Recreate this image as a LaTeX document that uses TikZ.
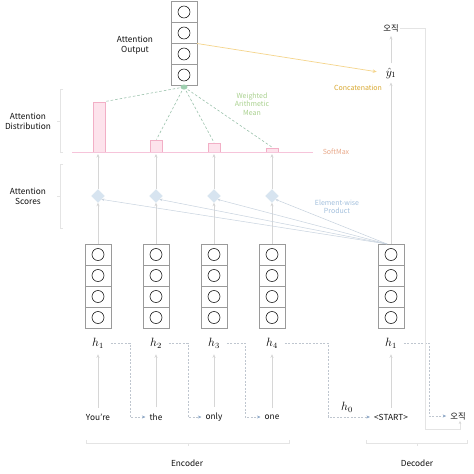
\documentclass[tikz,border=0pt]{standalone}
\usepackage{fontspec}
\setmainfont{Noto Sans CJK KR}
\usetikzlibrary{arrows.meta,shapes.geometric,calc}
\definecolor{boxgray}{HTML}{9A9A9A}
\definecolor{lgray}{HTML}{D6D6D6}
\definecolor{bgray}{HTML}{E4E4E4}
\definecolor{dgray}{HTML}{BFC6CF}
\definecolor{dtip}{HTML}{8FA9C8}
\definecolor{diafill}{HTML}{D7E4F0}
\definecolor{ewline}{HTML}{C8D3DF}
\definecolor{smline}{HTML}{F6C4DA}
\definecolor{smtext}{HTML}{E9A98A}
\definecolor{barfill}{HTML}{FDE3EC}
\definecolor{bardraw}{HTML}{F2AFC6}
\definecolor{gdash}{HTML}{9CC3AD}
\definecolor{gdot}{HTML}{9FCFB0}
\definecolor{gtext}{HTML}{A9D18E}
\definecolor{yline}{HTML}{F5D58C}
\definecolor{ytext}{HTML}{D9A932}
\definecolor{btext}{HTML}{A3C0DD}
\definecolor{txtc}{HTML}{111111}
\tikzset{
  vecbox/.pic={
    \node[draw=boxgray, line width=0.7pt, minimum width=26pt, minimum height=84pt, inner sep=0pt, outer sep=0pt] (-box) {};
    \foreach \k in {-21,0,21} \draw[boxgray, line width=0.7pt] (-13,\k) -- (13,\k);
    \foreach \k in {-31.5,-10.5,10.5,31.5} \draw[black, line width=0.55pt] (0,\k) circle[radius=6];
  },
  txt/.style={font=\fontsize{8.3}{9.8}\selectfont, align=center, inner sep=1pt, text=txtc},
  smalltxt/.style={font=\fontsize{7}{8.5}\selectfont, align=center, inner sep=1pt},
  mlbl/.style={font=\fontsize{11.5}{12}\selectfont, inner sep=1pt},
  garrow/.style={draw=lgray, line width=0.6pt, -{Stealth[length=3.5pt,width=3pt]}},
  hdash/.style={draw=dgray, dash pattern=on 2pt off 1.5pt, line width=0.5pt, -{Stealth[length=3.5pt,width=3pt,color=dtip]}},
  dia/.style={diamond, fill=diafill, draw=diafill, minimum width=13pt, minimum height=13pt, inner sep=0pt},
  ewarrow/.style={draw=ewline, line width=0.5pt, -{Stealth[length=3pt,width=2.5pt]}},
  barbox/.style={draw=bardraw, fill=barfill, line width=0.5pt, minimum width=12pt, inner sep=0pt, anchor=south},
  gline/.style={draw=gdash, dash pattern=on 2.5pt off 2pt, line width=0.6pt},
  brk/.style={draw=bgray, line width=0.6pt},
}
\begin{document}
\begin{tikzpicture}[x=1pt,y=-1pt]
\useasboundingbox (0,0) rectangle (474,474);
\fill[white] (0,0) rectangle (474,474);

% left labels and brackets
\node[txt] (lblout) at (135,45) {Attention\\Output};
\node[txt] (lbldist) at (28,121) {Attention\\Distribution};
\node[txt] (lblsc) at (28,196) {Attention\\Scores};
\draw[brk] (63,89) -- (60,89) -- (60,152) -- (63,152) (60,121) -- (57,121);
\draw[brk] (63,164) -- (60,164) -- (60,228) -- (63,228) (60,196) -- (57,196);

% softmax line
\coordinate (smL) at (72,152);
\coordinate (smR) at (313,152);
\node[smalltxt, text=smtext] (smtxt) at (336,152) {SoftMax};

% bars
\node[barbox, minimum height=50pt] (b1) at (99,152) {};
\node[barbox, minimum height=12pt] (b2) at (156.5,152) {};
\node[barbox, minimum height=9pt] (b3) at (214,152) {};
\node[barbox, minimum height=4pt] (b4) at (272.5,152) {};
\draw[smline, line width=0.8pt] (smL) -- (smR);

% attention output
\pic (ao) at (184,43.5) {vecbox};
\coordinate (gd) at (184,87);
\draw[gline] (gd) -- (b1.north east);
\draw[gline] (gd) -- (b2.north);
\draw[gline] (gd) -- (b3.north);
\draw[gline] (gd) -- (b4.north);
\fill[gdot] (gd) ellipse[x radius=3.5, y radius=2.5];
\node[smalltxt, text=gtext] (wam) at (252,104) {Weighted\\Arithmetic\\Mean};

% encoder boxes
\pic (e1) at (98,286) {vecbox};
\pic (e2) at (156,286) {vecbox};
\pic (e3) at (214,286) {vecbox};
\pic (e4) at (272,286) {vecbox};
\pic (d1) at (391,286) {vecbox};

% diamonds
\node[dia] (s1) at (98,196) {};
\node[dia] (s2) at (156,196) {};
\node[dia] (s3) at (214,196) {};
\node[dia] (s4) at (272,196) {};
\foreach \i in {1,2,3,4} {
  \draw[garrow] (e\i-box.north) -- (s\i.south);
  \draw[garrow] (s\i.north) -- ($(s\i.north |- smL)+(0,2)$);
}
\coordinate (ew) at ($(d1-box.north)+(-4,0)$);
\foreach \i in {1,2,3,4} \draw[ewarrow] (ew) -- (s\i.south east);
\node[smalltxt, text=btext] (ewt) at (337,207) {Element-wise\\Product};

% h labels
\node[mlbl] (h1) at (98,343) {$h_1$};
\node[mlbl] (h2) at (156,343) {$h_2$};
\node[mlbl] (h3) at (214,343) {$h_3$};
\node[mlbl] (h4) at (272,343) {$h_4$};
\node[mlbl] (hd) at (391,343) {$h_1$};
\node[mlbl] (h0) at (347,407) {$h_0$};

% words
\node[txt] (w1) at (98,417) {You're};
\node[txt] (w2) at (156,417) {the};
\node[txt] (w3) at (214,417) {only};
\node[txt] (w4) at (272,417) {one};
\node[txt] (ws) at (391,417) {<START>};
\node[txt] (wo) at (458,416) {오직};

\draw[garrow, shorten <=5pt, shorten >=5pt] (w1.north) -- (h1.south);
\draw[garrow, shorten <=5pt, shorten >=5pt] (w2.north) -- (h2.south);
\draw[garrow, shorten <=5pt, shorten >=5pt] (w3.north) -- (h3.south);
\draw[garrow, shorten <=5pt, shorten >=5pt] (w4.north) -- (h4.south);
\draw[garrow, shorten <=5pt, shorten >=5pt] (ws.north) -- (hd.south);

% recurrent dashed connections
\draw[hdash, shorten <=6pt, shorten >=3pt] (h1.east) -| (130,417) -- (w2.west);
\draw[hdash, shorten <=6pt, shorten >=3pt] (h2.east) -| (188,417) -- (w3.west);
\draw[hdash, shorten <=6pt, shorten >=3pt] (h3.east) -| (245,417) -- (w4.west);
\draw[hdash, shorten <=6pt, shorten >=3pt] (h4.east) -| (328,417) -- (ws.west);
\draw[hdash, shorten <=6pt, shorten >=3pt] (hd.east) -| (429,416) -- (wo.west);

% decoder output
\node[mlbl] (yh) at (391,73) {$\hat{y}_1$};
\node[txt] (wt) at (391,28) {오직};
\draw[garrow, shorten >=3pt] (d1-box.north) -- (yh.south);
\draw[garrow, shorten <=3pt, shorten >=3pt] (yh.north) -- (wt.south);
\draw[draw=yline, line width=0.7pt, shorten >=8pt, -{Stealth[length=4pt,width=3.5pt]}] (ao-box.east) -- (yh.west);
\node[smalltxt, text=ytext] (conc) at (358,88) {Concatenation};

% feedback loop
\draw[draw=bgray, line width=0.6pt, -{Stealth[length=3pt,width=2.5pt,color=lgray]}] (wt.east) -| (425,429) -| ($(wo.south)+(2,0)$);

% encoder / decoder brackets
\draw[brk] (86,440) -- (86,443) -- (289,443) -- (289,440) (188,443) -- (188,446);
\draw[brk] (366,440) -- (366,443) -- (467,443) -- (467,440) (417,443) -- (417,446);
\node[txt] (enc) at (187,463) {Encoder};
\node[txt] (dec) at (417,463) {Decoder};
\end{tikzpicture}
\end{document}
